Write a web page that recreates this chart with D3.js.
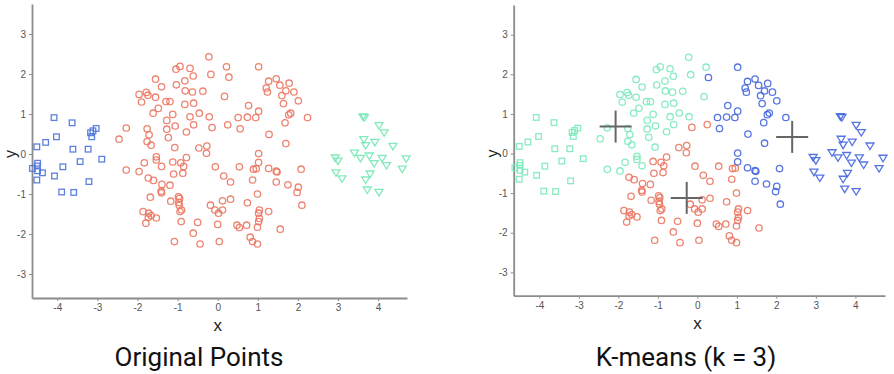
<!DOCTYPE html>
<html>
<head>
<meta charset="utf-8">
<script src="https://cdn.jsdelivr.net/npm/d3@7"></script>
<style>
  body { margin: 0; background: #fff; }
  svg { display: block; }
</style>
</head>
<body>
<svg id="chart" width="894" height="374"></svg>
<script>
// --- data: [x, y, cluster in the k-means panel] ---
const circlePts = [
  [-0.22,2.43,'g'],[-1.04,2.12,'g'],[-0.94,2.19,'g'],[-0.69,2.14,'g'],[-0.61,1.95,'g'],
  [-0.17,1.99,'g'],[0.22,2.18,'g'],[1.02,2.18,'b'],[0.28,1.92,'b'],[-1.55,1.87,'g'],
  [-0.82,1.83,'g'],[-1.03,1.73,'g'],[-1.4,1.68,'g'],[-0.81,1.58,'g'],[-0.63,1.55,'g'],
  [-0.37,1.57,'g'],[1.27,1.82,'b'],[1.46,1.88,'b'],[1.55,1.72,'b'],[1.78,1.77,'b'],
  [1.7,1.58,'b'],[1.21,1.65,'b'],[1.24,1.55,'b'],[1.9,1.55,'b'],[1.6,1.46,'b'],
  [2.01,1.33,'b'],[1.64,1.26,'b'],[0.17,1.44,'g'],[-1.96,1.49,'g'],[-1.78,1.54,'g'],
  [-1.74,1.47,'g'],[-1.9,1.3,'g'],[-1.55,1.42,'g'],[-1.29,1.31,'g'],[-1.19,1.31,'g'],
  [-0.82,1.24,'g'],[-0.6,1.27,'g'],[0.77,1.21,'b'],[1.02,1.07,'b'],[-1.48,1.14,'g'],
  [-1.61,1.02,'g'],[-1.12,0.99,'g'],[-0.46,1.02,'g'],[-0.69,0.93,'g'],[-0.21,0.93,'g'],
  [1.82,1.02,'b'],[1.77,0.98,'b'],[2.24,0.91,'b'],[0.51,0.91,'b'],[0.74,0.92,'b'],
  [0.95,0.91,'b'],[1.68,0.78,'b'],[-1.27,0.84,'g'],[-1.06,0.7,'g'],[-0.6,0.73,'g'],
  [-0.14,0.66,'r'],[0.25,0.73,'r'],[0.56,0.63,'b'],[-2.28,0.65,'g'],[-1.76,0.63,'g'],
  [-1.27,0.62,'g'],[-0.78,0.55,'g'],[1.28,0.49,'b'],[-2.46,0.37,'g'],[-1.71,0.48,'g'],
  [-1.23,0.41,'g'],[-1.76,0.31,'g'],[-1.66,0.22,'g'],[-1.07,0.16,'g'],[-0.47,0.15,'r'],
  [-0.27,0.2,'r'],[1.7,0.26,'b'],[-0.28,0.02,'r'],[1.02,0.01,'b'],
  [-1.53,-0.07,'g'],[-1.53,-0.15,'g'],[-1.83,-0.22,'g'],[-1.4,-0.31,'g'],[-2.28,-0.4,'g'],
  [-1.96,-0.44,'g'],[-1.12,-0.2,'r'],[-0.92,-0.22,'r'],[-0.85,-0.31,'r'],[-0.78,-0.09,'r'],
  [-0.06,-0.32,'r'],[0.54,-0.32,'r'],[0.89,-0.38,'r'],[0.96,-0.37,'r'],[1.02,-0.21,'b'],
  [1.27,-0.36,'b'],[1.46,-0.43,'b'],[1.48,-0.45,'b'],[2.08,-0.38,'b'],[-1.1,-0.5,'r'],
  [-0.87,-0.48,'r'],[0.15,-0.55,'r'],[0.32,-0.7,'r'],[0.87,-0.65,'r'],[1.46,-0.7,'b'],
  [1.75,-0.77,'b'],[2.01,-0.83,'b'],[1.98,-0.96,'b'],[2.1,-1.28,'b'],[-1.73,-0.6,'r'],
  [-1.6,-0.66,'r'],[-1.39,-0.76,'r'],[-1.19,-0.78,'r'],[-1.41,-0.93,'r'],[-1.4,-0.97,'r'],
  [-1.68,-1.08,'r'],[-1.17,-1.18,'r'],[-0.98,-1.07,'r'],[-0.95,-1.11,'r'],[-0.97,-1.21,'r'],
  [-0.96,-1.28,'r'],[-0.9,-1.4,'r'],[-0.94,-1.44,'r'],[-1.86,-1.44,'r'],[-1.72,-1.48,'r'],
  [-1.66,-1.54,'r'],[-1.73,-1.58,'r'],[-1.53,-1.6,'r'],[-1.79,-1.73,'r'],[-0.91,-1.69,'r'],
  [-0.5,-1.71,'r'],[-0.61,-1.98,'r'],[-1.08,-2.19,'r'],[-0.44,-2.25,'r'],[-0.18,-1.28,'r'],
  [-0.07,-1.4,'r'],[0.02,-1.48,'r'],[0.12,-1.4,'r'],[0.12,-1.17,'r'],[0.32,-1.13,'r'],
  [0.0,-1.76,'r'],[0.04,-2.19,'r'],[0.48,-1.78,'r'],[0.54,-1.84,'r'],[0.74,-1.22,'r'],
  [0.72,-1.78,'r'],[0.81,-2.08,'r'],[0.87,-2.19,'r'],[0.99,-2.25,'r'],[0.99,-1.83,'r'],
  [1.02,-1.69,'r'],[1.04,-1.61,'r'],[1.02,-1.48,'r'],[1.04,-1.4,'r'],[0.99,-1.0,'r'],
  [1.27,-1.44,'r'],[1.56,-1.88,'r']
];

const squarePts = [
  [-4.08,0.91],[-3.63,0.78],[-3.03,0.64],[-3.11,0.58],[-3.17,0.53],[-3.14,0.43],
  [-4.02,0.43],[-4.29,0.29],[-4.51,0.18],[-3.61,0.12],[-3.23,0.12],[-2.89,-0.13],
  [-3.43,-0.19],[-3.86,-0.32],[-4.49,-0.23],[-4.5,-0.3],[-4.62,-0.36],[-4.49,-0.42],
  [-4.37,-0.47],[-4.51,-0.65],[-4.07,-0.55],[-3.21,-0.69],[-3.89,-0.95],[-3.59,-0.96]
];

const trianglePts = [
  [3.62,0.94],[3.66,0.92],[4.02,0.72],[4.15,0.54],[3.64,0.37],[3.92,0.3],[3.69,0.22],
  [4.37,0.2],[3.41,0.03],[2.93,-0.09],[3.0,-0.17],[3.56,-0.1],[3.78,-0.04],[3.9,-0.23],
  [4.1,-0.1],[4.21,-0.28],[4.7,-0.11],[4.6,-0.37],[2.95,-0.46],[3.1,-0.61],[3.8,-0.49],
  [3.69,-0.64],[3.73,-0.89],[4.02,-0.95]
];

const centers = [[-2.07,0.68],[-0.27,-1.12],[2.4,0.42]];
const xTicks = [-4,-3,-2,-1,0,1,2,3,4];
const yTicks = [-3,-2,-1,0,1,2,3];
const titles = ["Original Points", "K-means (k = 3)"];

// --- colours ---
const RED = "#eb7660", BLUE = "#4d72dc", GREEN = "#74e8b4";
const clusterColor = { r: RED, b: "#4466de", g: "#7ce9ba" };

const svg = d3.select("#chart");

const panels = [
  { left: 32, right: 407, bottom: 298, top: 4, xd: [-4.63, 4.72], yd: [-3.6, 3.75], titleX: 199, mode: "orig" },
  { left: 513.7, right: 885, bottom: 295.7, top: 5, xd: [-4.65, 4.75], yd: [-3.59, 3.75], titleX: 686, mode: "km" }
];

const triPath = "M-4,-2.6L4,-2.6L0,3.9Z";

panels.forEach((p, i) => {
  const x = d3.scaleLinear().domain(p.xd).range([p.left, p.right]);
  const y = d3.scaleLinear().domain(p.yd).range([p.bottom, p.top]);
  const g = svg.append("g");

  // axes
  const xa = g.append("g").attr("transform", `translate(0,${p.bottom})`)
    .call(d3.axisBottom(x).tickValues(xTicks).tickFormat(d => String(d)).tickSize(3).tickSizeOuter(0).tickPadding(3));
  const ya = g.append("g").attr("transform", `translate(${p.left},0)`)
    .call(d3.axisLeft(y).tickValues(yTicks).tickFormat(d => String(d)).tickSize(3).tickSizeOuter(0).tickPadding(3));
  [xa, ya].forEach(a => {
    a.select(".domain").attr("stroke", "#8c8c8c").attr("stroke-width", 1.8);
    a.selectAll(".tick line").attr("stroke", "#8c8c8c").attr("stroke-width", 1);
    a.selectAll(".tick text").attr("fill", "#555").style("font-family", "'Liberation Sans', Arial, sans-serif").style("font-size", "10px");
  });

  // axis labels
  g.append("text").attr("x", (x(0))).attr("y", p.bottom + 33)
    .attr("text-anchor", "middle").attr("fill", "#222")
    .style("font-family", "'Liberation Sans', Arial, sans-serif").style("font-size", "17px").text("x");
  g.append("text").attr("transform", `translate(${p.left - 16},${y(0)}) rotate(-90)`)
    .attr("text-anchor", "middle").attr("fill", "#222")
    .style("font-family", "'Liberation Sans', Arial, sans-serif").style("font-size", "16px").text("y");

  const colC = d => p.mode === "orig" ? RED : clusterColor[d[2]];
  const colS = () => p.mode === "orig" ? BLUE : clusterColor.g;
  const colT = () => p.mode === "orig" ? GREEN : clusterColor.b;

  const marks = g.append("g").attr("fill", "none").attr("stroke-width", 1.3).attr("stroke-opacity", 0.9);

  marks.selectAll("circle.pt").data(circlePts).join("circle").attr("class", "pt")
    .attr("cx", d => x(d[0])).attr("cy", d => y(d[1])).attr("r", 3.2)
    .attr("stroke", colC);

  marks.selectAll("rect.sq").data(squarePts).join("rect").attr("class", "sq")
    .attr("x", d => x(d[0]) - 2.8).attr("y", d => y(d[1]) - 2.8)
    .attr("width", 5.6).attr("height", 5.6).attr("stroke", colS);

  marks.selectAll("path.tri").data(trianglePts).join("path").attr("class", "tri")
    .attr("d", triPath).attr("transform", d => `translate(${x(d[0])},${y(d[1])})`)
    .attr("stroke", colT);

  // cluster centres
  if (p.mode === "km") {
    const c = g.append("g").attr("stroke", "#666").attr("stroke-width", 2);
    c.selectAll("line.h").data(centers).join("line").attr("class", "h")
      .attr("x1", d => x(d[0]) - 16).attr("x2", d => x(d[0]) + 16)
      .attr("y1", d => y(d[1])).attr("y2", d => y(d[1]));
    c.selectAll("line.v").data(centers).join("line").attr("class", "v")
      .attr("x1", d => x(d[0])).attr("x2", d => x(d[0]))
      .attr("y1", d => y(d[1]) - 16).attr("y2", d => y(d[1]) + 16);
  }

  // panel title
  svg.append("text").attr("x", p.titleX).attr("y", 366)
    .attr("text-anchor", "middle").attr("fill", "#111")
    .style("font-family", "Roboto, sans-serif").style("font-size", "26px")
    .text(titles[i]);
});
</script>
</body>
</html>
